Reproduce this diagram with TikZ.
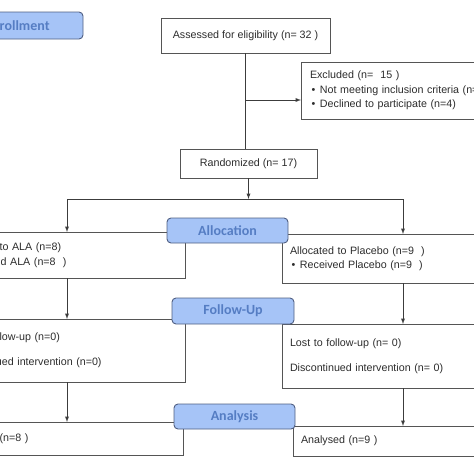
\documentclass[tikz,border=0pt]{standalone}
\usepackage{fontspec}
\setmainfont{Liberation Sans}
\newfontfamily\stagefont{Carlito}

\definecolor{boxline}{RGB}{85,85,85}
\definecolor{txt}{RGB}{45,45,45}
\definecolor{stagefill}{RGB}{166,196,247}
\definecolor{stageline}{RGB}{80,95,130}
\definecolor{stagetxt}{RGB}{85,125,195}

\newcommand{\bul}{\hspace*{1.5pt}\makebox[8.5pt][l]{\textbullet}}

\begin{document}
\begin{tikzpicture}[
  x=1pt, y=-1pt,
  flowbox/.style={
    draw=boxline,
    line width=0.9pt,
    fill=white,
    outer sep=0pt,
    anchor=north west,
    inner xsep=8pt,
    inner ysep=0pt,
    text=txt,
    font=\fontsize{10.7}{14.5}\selectfont,
    align=left
  },
  stage/.style={
    draw=stageline,
    line width=0.9pt,
    fill=stagefill,
    rounded corners=4pt,
    outer sep=0pt,
    anchor=north west,
    inner sep=0pt,
    text=stagetxt,
    font=\stagefont\bfseries\fontsize{14}{16}\selectfont,
    minimum width=121pt
  },
  link/.style={draw=boxline!70!black, line width=0.9pt},
  arr/.style={-latex, draw=boxline!70!black, line width=0.9pt}
]
\useasboundingbox (0,0) rectangle (474,474);
\clip (0,0) rectangle (474,474);

% boxes
\node[flowbox, align=center, minimum width=169pt, minimum height=35pt] (assess) at (161,18) {Assessed for eligibility (n= 32 )};
\node[flowbox, text width=221pt, inner xsep=9pt, minimum height=57pt] (excl) at (301,62) {Excluded (n=\ \ 15 )\\ \bul Not meeting inclusion criteria (n=11)\\ \bul Declined to participate (n=4)};
\node[flowbox, align=center, minimum width=137pt, minimum height=29pt] (rand) at (180,149) {Randomized (n= 17)};

\node[flowbox, text width=225pt, minimum height=46pt] (allocL) at (-56,232) {Allocated to ALA (n=8)\\ \bul Received ALA (n=8\ \ )};
\node[flowbox, text width=242pt, minimum height=49pt] (allocR) at (282,234) {Allocated to Placebo (n=9\ \ )\\ \bul Received Placebo (n=9\ \ )};

\node[flowbox, text width=225pt, minimum height=63pt] (followL) at (-56,319) {Lost to follow-up (n=0)\\[10.5pt] Discontinued intervention (n=0)};
\node[flowbox, text width=242pt, minimum height=64pt] (followR) at (282,324) {Lost to follow-up (n= 0)\\[10.5pt] Discontinued intervention (n= 0)};

\node[flowbox, text width=223pt, minimum height=33pt] (analysisL) at (-56,422) {Analysed (n=8 )};
\node[flowbox, text width=231pt, minimum height=30pt] (analysisR) at (293,426) {Analysed (n=9 )};

% connectors
\coordinate (branch) at (assess.south |- 0,100);
\coordinate (splitL) at (67,199);
\coordinate (splitR) at (403,199);
\draw[link] (assess.south) -- (assess.south |- rand.north);
\draw[arr] (branch) -- (branch -| excl.west);
\draw[arr] (rand.south) -- (rand.south |- splitL);
\draw[link] (splitL) -- (splitR);
\draw[arr] (splitL) -- (splitL |- allocL.north);
\draw[arr] (splitR) -- (splitR |- allocR.north);
\draw[arr] (allocL.south -| splitL) -- (splitL |- followL.north);
\draw[arr] (allocR.south -| splitR) -- (splitR |- followR.north);
\draw[arr] (followL.south -| splitL) -- (splitL |- analysisL.north);
\draw[arr] (followR.south -| splitR) -- (splitR |- analysisR.north);

% stage labels
\node[stage, minimum height=27pt, minimum width=131pt] (enroll) at (-48,12) {Enrollment};
\node[stage, minimum height=25pt] (alloc) at (167,218) {Allocation};
\node[stage, minimum height=26pt, minimum width=122pt] (follow) at (172,298) {Follow-Up};
\node[stage, minimum height=25pt] (analysis) at (174,404) {Analysis};
\end{tikzpicture}
\end{document}
